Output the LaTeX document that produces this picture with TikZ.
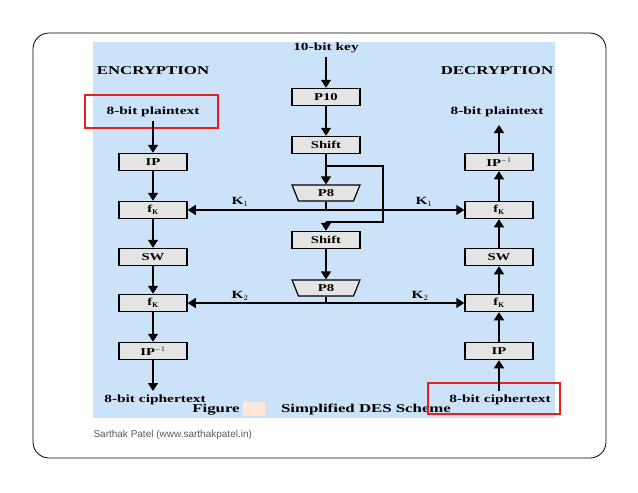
\documentclass[tikz,border=0pt]{standalone}
\usepackage{fontspec}
\setmainfont{Liberation Serif}
\newfontfamily\wide{Liberation Serif}[FakeStretch=1.4]
\newfontfamily\sansf{Liberation Sans}
\usetikzlibrary{arrows.meta,shapes.geometric}
\definecolor{panel}{HTML}{CCE2F8}
\definecolor{boxf}{HTML}{E4E4E4}
\begin{document}
\begin{tikzpicture}[x=1pt,y=-1pt,
  box/.style={draw=black,line width=1.5pt,fill=boxf,minimum width=68pt,minimum height=17pt,inner sep=0pt,font=\wide\bfseries\fontsize{10.5}{11}\selectfont},
  trap/.style={draw=black,line width=1.2pt,fill=boxf,trapezium,shape border rotate=180,trapezium angle=75,minimum width=68pt,minimum height=16pt,inner sep=0pt,trapezium stretches=true,font=\wide\bfseries\fontsize{10.5}{11}\selectfont},
  lbl/.style={font=\wide\bfseries\fontsize{11}{12}\selectfont},
  big/.style={font=\wide\bfseries\fontsize{12}{13}\selectfont},
  ar/.style={line width=1.5pt,-{Triangle[length=8pt,width=10pt]}},
  ln/.style={line width=1.5pt},
  red/.style={draw={rgb,255:red,230;green,30;blue,30},line width=1.6pt}]
\useasboundingbox (0,0) rectangle (638,493);
\draw[line width=0.8pt,rounded corners=16pt] (33,33) rectangle (606,458);
\fill[panel] (93,42) rectangle (555,418);
\node[lbl] (ptL) at (153,112) {8-bit plaintext};
\node[box] (ipL) at (153,162) {IP};
\node[box] (f1L) at (153,210) {f$_{\mathbf K}$};
\node[box] (swL) at (153,257) {SW};
\node[box] (f2L) at (153,303) {f$_{\mathbf K}$};
\node[box] (ipiL) at (153,351) {IP$^{-1}$};
\node[lbl] (ctL) at (155,400) {8-bit ciphertext};
\node[lbl] (ptR) at (497,112) {8-bit plaintext};
\node[box] (ipiR) at (499,162) {IP$^{-1}$};
\node[box] (f1R) at (499,210) {f$_{\mathbf K}$};
\node[box] (swR) at (499,257) {SW};
\node[box] (f2R) at (499,303) {f$_{\mathbf K}$};
\node[box] (ipR) at (499,351) {IP};
\node[lbl] (ctR) at (500,400) {8-bit ciphertext};
\node[lbl] (key) at (326,48) {10-bit key};
\node[box] (p10) at (326,97) {P10};
\node[box] (sh1) at (326,145) {Shift};
\node[trap] (p81) at (326,193) {P8};
\node[box] (sh2) at (326,240) {Shift};
\node[trap] (p82) at (326,288) {P8};
\node[big] (enc) at (153,71) {ENCRYPTION};
\node[big] (dec) at (497,71) {DECRYPTION};
\node[lbl] (k1a) at (240,202) {K$_1$};
\node[lbl] (k1b) at (424,202) {K$_1$};
\node[lbl] (k2a) at (240,296) {K$_2$};
\node[lbl] (k2b) at (420,296) {K$_2$};
\node[big] (fig) at (216,410) {Figure};
\fill[red!20!orange!15] (243,402) rectangle (265,416);
\node[big] (cap) at (366,410) {Simplified DES Scheme};
\node[anchor=west,font=\sansf\fontsize{10}{11}\selectfont,text=black!65] (foot) at (90,435) {Sarthak Patel (www.sarthakpatel.in)};
\draw[red] (85,95) rectangle (218,128);
\draw[red] (428,383) rectangle (560,414);
\draw[ar] (153,121) -- (ipL);
\draw[ar] (ipL) -- (f1L);
\draw[ar] (f1L) -- (swL);
\draw[ar] (swL) -- (f2L);
\draw[ar] (f2L) -- (ipiL);
\draw[ar] (ipiL) -- (153,391);
\draw[ar] (499,391) -- (ipR);
\draw[ar] (ipR) -- (f2R);
\draw[ar] (f2R) -- (swR);
\draw[ar] (swR) -- (f1R);
\draw[ar] (f1R) -- (ipiR);
\draw[ar] (ipiR) -- (499,125);
\draw[ar] (key) ++(0,9) -- (p10);
\draw[ar] (p10) -- (sh1);
\draw[ar] (sh1) -- (p81);
\draw[ln] (326,166) -- (383,166) -- (383,222) -- (326,222);
\draw[ar] (326,222) -- (sh2);
\draw[ar] (sh2) -- (p82);
\coordinate (j1) at (326,210);
\coordinate (j2) at (326,303);
\draw[ln] (p81) -- (j1);
\draw[ar] (j1) -- (f1L);
\draw[ar] (j1) -- (f1R);
\draw[ln] (p82) -- (j2);
\draw[ar] (j2) -- (f2L);
\draw[ar] (j2) -- (f2R);
\end{tikzpicture}
\end{document}
